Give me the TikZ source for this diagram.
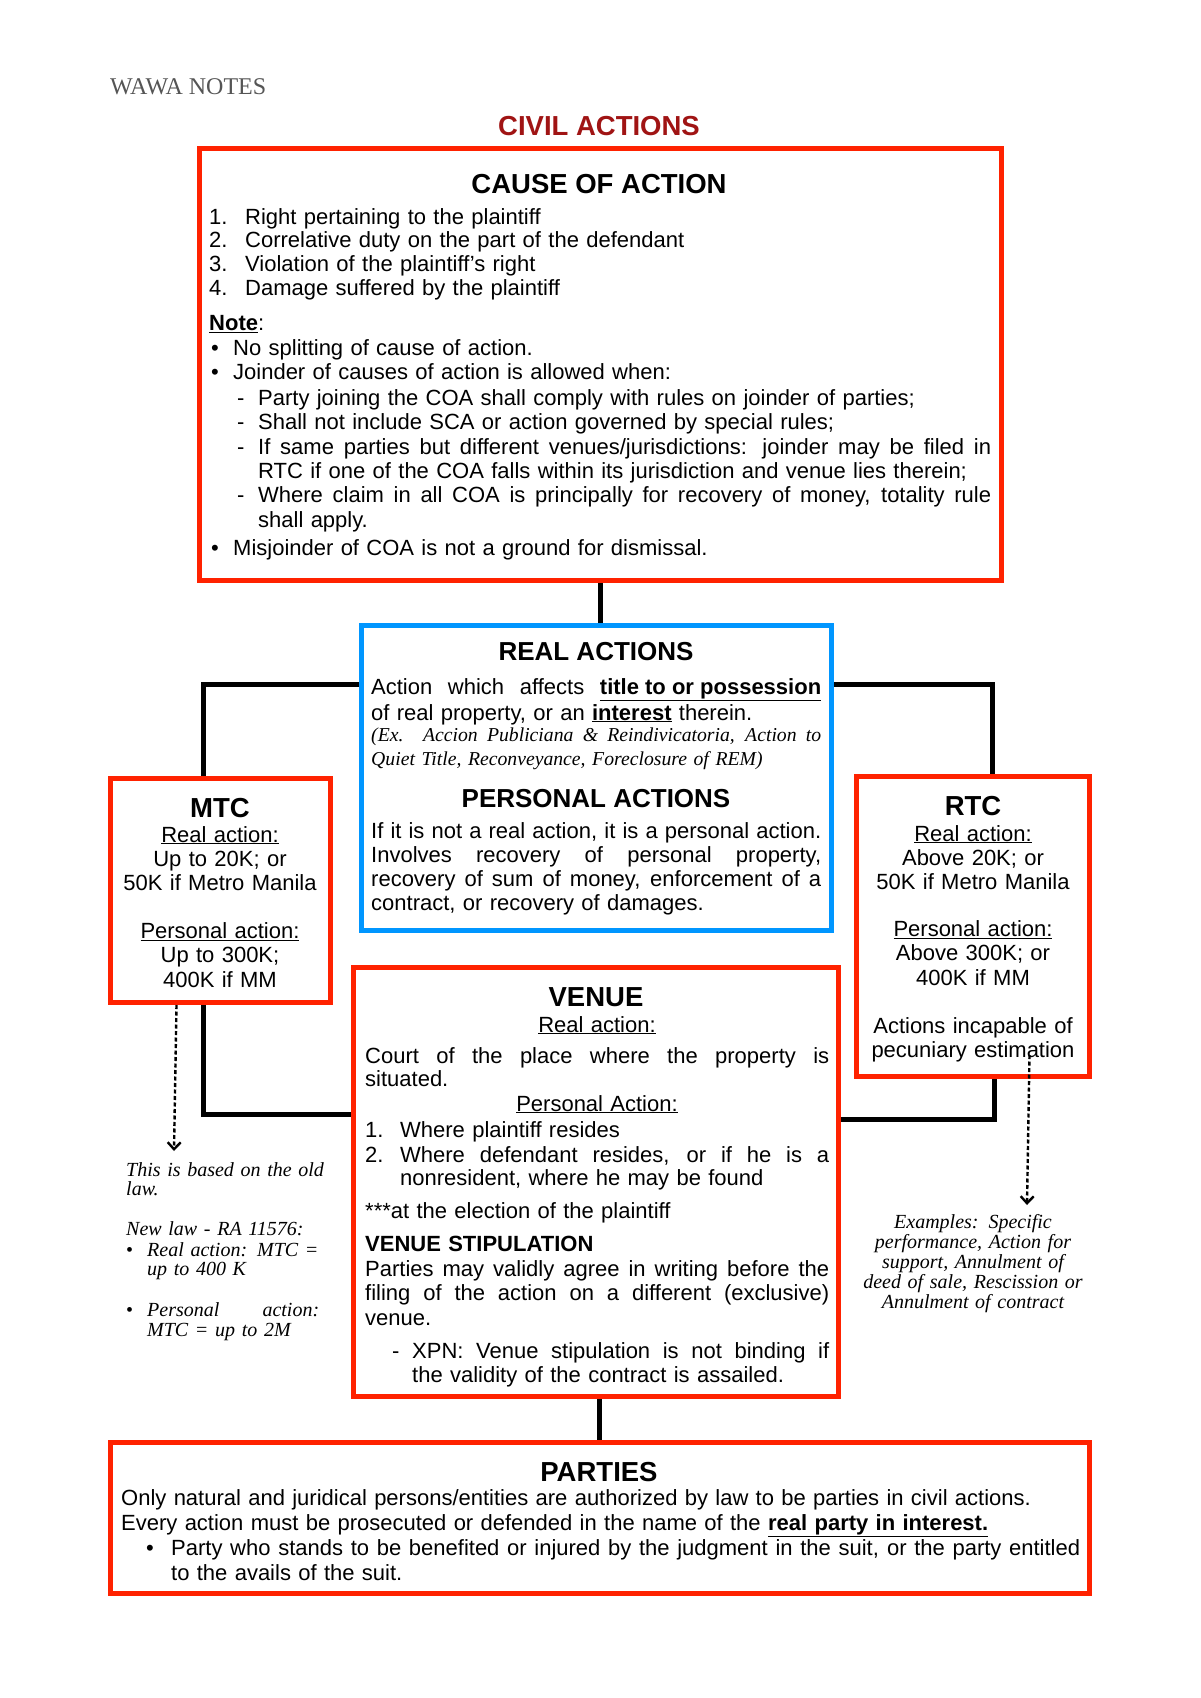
\documentclass[tikz,border=0pt]{standalone}
\usepackage{fontspec}
\setmainfont{Liberation Sans}
\newfontfamily\notefont{Liberation Serif}
\usetikzlibrary{arrows.meta}
\definecolor{boxred}{RGB}{255,34,0}
\definecolor{boxblue}{RGB}{0,150,255}
\definecolor{titlered}{RGB}{160,20,20}
\definecolor{headgray}{RGB}{85,85,85}
\newcommand{\jl}[2]{{\spaceskip=0pt\xspaceskip=0pt\makebox[#1][s]{#2}}}
\newcommand{\lab}[2]{\makebox[#1][l]{#2}}
\begin{document}
\begin{tikzpicture}[x=1pt,y=-1pt,
 redbox/.style={draw=boxred, line width=5pt, fill=white, inner sep=0pt, anchor=north west},
 bluebox/.style={draw=boxblue, line width=5pt, fill=white, inner sep=0pt, anchor=north west},
 conn/.style={line width=5pt, draw=black},
 dasharr/.style={line width=2.4pt, dash pattern=on 4pt off 2.5pt, -{Straight Barb[length=7pt,width=13pt,line width=2.4pt]}},
 txt/.style={inner sep=0pt, anchor=base west, align=left, font=\fontsize{22}{24}\selectfont},
 ctxt/.style={inner sep=0pt, anchor=base, align=center, font=\fontsize{22}{24.3}\selectfont},
 head/.style={inner sep=0pt, anchor=base, font=\fontsize{27.5}{30}\selectfont\bfseries},
 note/.style={inner sep=0pt, font=\notefont\itshape\fontsize{20}{19}\selectfont},
]
\fill[white] (0,0) rectangle (1200,1698);
\useasboundingbox (0,0) rectangle (1200,1698);

% header
\node[inner sep=0pt, anchor=base west, font=\notefont\fontsize{24}{26}\selectfont, text=headgray] (wawa) at (110,94) {WAWA NOTES};
\node[head, text=titlered] (title) at (599,135) {CIVIL ACTIONS};

% boxes
\node[redbox, minimum width=802pt, minimum height=432pt] (coa) at (197,146) {};
\node[bluebox, minimum width=470pt, minimum height=305pt] (real) at (359,623) {};
\node[redbox, minimum width=220pt, minimum height=224pt] (mtc) at (108,776) {};
\node[redbox, minimum width=233pt, minimum height=300pt] (rtc) at (854,774) {};
\node[redbox, minimum width=485pt, minimum height=429pt] (venue) at (351,965) {};
\node[redbox, minimum width=979pt, minimum height=151pt] (parties) at (108,1440) {};

% connectors
\draw[conn] (coa.south) -- (coa.south |- real.north);
\draw[conn] ([yshift=-61pt]real.north west) -| ([xshift=-17pt]mtc.north);
\draw[conn] ([yshift=-61pt]real.north east) -| ([xshift=19.5pt]rtc.north);
\draw[conn] ([xshift=-17pt]mtc.south) |- ([yshift=-149pt]venue.north west);
\draw[conn] ([xshift=21.5pt]rtc.south) |- ([yshift=-154pt]venue.north east);
\draw[conn] ([xshift=3pt]venue.south) -- ([xshift=3pt]venue.south |- parties.north);

% dashed arrows
\coordinate (mtcarr) at (174,1151);
\coordinate (rtcarr) at (1027,1205);
\draw[dasharr] ([xshift=-44pt]mtc.south) -- (mtcarr);
\draw[dasharr] ([xshift=56.5pt,yshift=24pt]rtc.south) -- (rtcarr);

% cause of action
\node[head] (coahead) at (599,193) {CAUSE OF ACTION};
\node[txt, text width=782pt, font=\fontsize{22}{23.8}\selectfont] (coatext) at (209,224) {%
\lab{36pt}{1.}Right pertaining to the plaintiff\\
\lab{36pt}{2.}Correlative duty on the part of the defendant\\
\lab{36pt}{3.}Violation of the plaintiff’s right\\
\lab{36pt}{4.}Damage suffered by the plaintiff\\[11pt]
\textbf{\underline{Note}}:\\[1pt]
\hspace*{2pt}\lab{22pt}{•}No splitting of cause of action.\\[1pt]
\hspace*{2pt}\lab{22pt}{•}Joinder of causes of action is allowed when:\\[2pt]
\hspace*{28pt}\lab{21pt}{-}Party joining the COA shall comply with rules on joinder of parties;\\[0.5pt]
\hspace*{28pt}\lab{21pt}{-}Shall not include SCA or action governed by special rules;\\[0.5pt]
\hspace*{28pt}\lab{21pt}{-}\jl{733pt}{If same parties but different venues/jurisdictions: joinder may be filed in}\\[0.5pt]
\hspace*{49pt}RTC if one of the COA falls within its jurisdiction and venue lies therein;\\[0.5pt]
\hspace*{28pt}\lab{21pt}{-}\jl{733pt}{Where claim in all COA is principally for recovery of money, totality rule}\\[0.5pt]
\hspace*{49pt}shall apply.\\[5pt]
\hspace*{2pt}\lab{22pt}{•}Misjoinder of COA is not a ground for dismissal.};

% real / personal actions
\node[head, font=\fontsize{26}{28}\selectfont\bfseries] (realhead) at (596,660) {REAL ACTIONS};
\node[txt, text width=452pt] (realtext) at (371,694) {%
\jl{450pt}{Action which affects \textbf{\underline{title to or possession}}}\\[2pt]
of real property, or an \textbf{\underline{interest}} therein.};
\node[note, anchor=base west, align=left, text width=452pt, font=\notefont\itshape\fontsize{19.7}{24}\selectfont] (realex) at (371,741) {%
\jl{450pt}{(Ex. Accion Publiciana \& Reindivicatoria, Action to}\\
Quiet Title, Reconveyance, Foreclosure of REM)};
\node[head, font=\fontsize{26}{28}\selectfont\bfseries] (perhead) at (596,807) {PERSONAL ACTIONS};
\node[txt, text width=452pt, font=\fontsize{22}{24.3}\selectfont] (pertext) at (371,838) {%
\jl{450pt}{If it is not a real action, it is a personal action.}\\
\jl{450pt}{Involves recovery of personal property,}\\
\jl{450pt}{recovery of sum of money, enforcement of a}\\
contract, or recovery of damages.};

% MTC
\node[head] (mtchead) at (220,817) {MTC};
\node[ctxt, text width=215pt] (mtctext) at (220,842) {%
\underline{Real action:}\\ Up to 20K; or\\ 50K if Metro Manila\\[23.5pt]
\underline{Personal action:}\\ Up to 300K;\\ 400K if MM};

% RTC
\node[head] (rtchead) at (973,815) {RTC};
\node[ctxt, text width=228pt, font=\fontsize{22}{24.2}\selectfont] (rtctext) at (973,841) {%
\underline{Real action:}\\ Above 20K; or\\ 50K if Metro Manila\\[23pt]
\underline{Personal action:}\\ Above 300K; or\\ 400K if MM\\[24.5pt]
Actions incapable of\\ pecuniary estimation};

% venue
\node[head] (venuehead) at (596,1006) {VENUE};
\node[ctxt, text width=464pt] (venreal) at (597,1032) {\underline{Real action:}};
\node[txt, text width=466pt, font=\fontsize{22}{23}\selectfont] (ventext) at (365,1063) {%
\jl{464pt}{Court of the place where the property is}\\ situated.};
\node[ctxt, text width=464pt] (venpers) at (597,1111) {\underline{Personal Action:}};
\node[txt, text width=466pt] (venlist) at (365,1137) {%
\lab{35pt}{1.}Where plaintiff resides\\[1pt]
\lab{35pt}{2.}\jl{429pt}{Where defendant resides, or if he is a}\\[-1pt]
\hspace*{35pt}nonresident, where he may be found};
\node[txt, text width=466pt] (venelect) at (365,1218) {***at the election of the plaintiff};
\node[txt, text width=466pt] (venstiphead) at (365,1251) {\textbf{VENUE STIPULATION}};
\node[txt, text width=466pt, font=\fontsize{22}{24.5}\selectfont] (venstip) at (365,1276) {%
\jl{464pt}{Parties may validly agree in writing before the}\\
\jl{464pt}{filing of the action on a different (exclusive)}\\
venue.};
\node[txt, text width=439pt] (venxpn) at (392,1358) {%
\lab{20pt}{-}\jl{417pt}{XPN: Venue stipulation is not binding if}\\
\hspace*{20pt}the validity of the contract is assailed.};

% notes
\node[note, anchor=base west, align=left, text width=205pt] (mtcnote) at (126,1176) {%
This is based on the old\\ law.\\[21pt]
New law - RA 11576:\\[2pt]
\lab{21pt}{\upshape •}Real action: MTC =\\
\hspace*{21pt}up to 400 K\\[22pt]
\lab{21pt}{\upshape •}\jl{172pt}{Personal action:}\\[1pt]
\hspace*{21pt}MTC = up to 2M};
\node[note, anchor=base, align=center, text width=232pt, font=\notefont\itshape\fontsize{20}{20}\selectfont] (rtcnote) at (973,1228) {%
Examples: Specific\\ performance, Action for\\ support, Annulment of\\ deed of sale, Rescission or\\ Annulment of contract};

% parties
\node[head] (parthead) at (599,1481) {PARTIES};
\node[txt, text width=961pt, font=\fontsize{22}{25}\selectfont] (parttext) at (121,1505) {%
Only natural and juridical persons/entities are authorized by law to be parties in civil actions.\\
Every action must be prosecuted or defended in the name of the \textbf{\underline{real party in interest.}}\\
\hspace*{25pt}\lab{25pt}{•}\jl{909pt}{Party who stands to be benefited or injured by the judgment in the suit, or the party entitled}\\
\hspace*{50pt}to the avails of the suit.};
\end{tikzpicture}
\end{document}
